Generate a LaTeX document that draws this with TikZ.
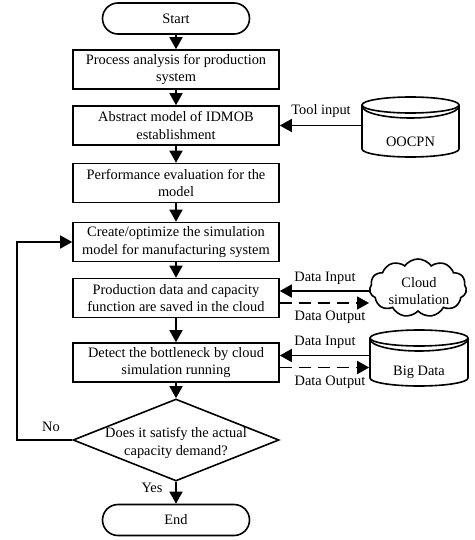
\documentclass[tikz,border=0pt]{standalone}
\usepackage{fontspec}
\setmainfont{Liberation Serif}
\usetikzlibrary{arrows.meta,shapes.geometric,shapes.symbols,shapes.misc}
\newcommand\dbcyl[4]{% left, right, top, bottom
  \pgfmathsetmacro\cylcx{(#1+#2)/2}\pgfmathsetmacro\cylrx{(#2-#1)/2}%
  \draw (\cylcx,#3+8) ellipse [x radius=\cylrx, y radius=8];
  \draw (#1,#3+8) -- (#1,#4-8) arc[start angle=180, end angle=0, x radius=\cylrx, y radius=8] -- (#2,#3+8);
  \draw (#1,#3+9) arc[start angle=180, end angle=0, x radius=\cylrx, y radius=12];
}
\begin{document}
\begin{tikzpicture}[x=1pt,y=-1pt,
  font=\fontsize{14.4}{17.5}\selectfont,
  line width=1.6pt,
  box/.style={draw, rectangle, minimum width=206pt, minimum height=39pt, inner sep=0pt, align=center},
  term/.style={draw, rounded rectangle, minimum width=147pt, minimum height=31pt, inner sep=0pt},
  arr/.style={-{Triangle[length=12pt,width=13pt]}},
  dasharr/.style={arr, dash pattern=on 12pt off 7pt},
  lbl/.style={inner sep=0pt}]
\useasboundingbox (0,0) rectangle (474,540);
% main flow
\node[term] (start) at (176,18.5) {Start};
\node[box] (b1) at (176,69.5) {Process analysis for production\\system};
\node[box] (b2) at (176,125.5) {Abstract model of IDMOB\\establishment};
\node[box] (b3) at (176,183) {Performance evaluation for the\\model};
\node[box] (b4) at (176,242) {Create/optimize the simulation\\model for manufacturing system};
\node[box] (b5) at (176,298) {Production data and capacity\\function are saved in the cloud};
\node[box] (b6) at (176,362.5) {Detect the bottleneck by cloud\\simulation running};
\node[draw, diamond, minimum width=206pt, minimum height=82pt, inner sep=0pt] (dec) at (176,440) {};
\node[align=center] (dectext) at (176,443) {Does it satisfy the actual\\capacity demand?};
\node[term] (end) at (176,520) {End};
\draw[arr] (start) -- (b1);
\draw[arr] (b1) -- (b2);
\draw[arr] (b2) -- (b3);
\draw[arr] (b3) -- (b4);
\draw[arr] (b4) -- (b5);
\draw[arr] (b5) -- (b6);
\draw[arr] (b6) -- (dec);
\draw[arr] (dec) -- (end);
\coordinate (loopc) at (17,440);
\draw[arr] (dec.west) -- (loopc) |- (b4.west);
\node[lbl] (no) at (51,427) {No};
\node[lbl] (yes) at (152,488) {Yes};
% OOCPN
\dbcyl{362}{459}{97}{157}
\node[minimum width=97pt, minimum height=30pt, inner sep=0pt] (oocpn) at (410.5,142) {OOCPN};
\draw[arr] (oocpn.west |- b2.east) -- (b2.east);
\node[lbl] (tool) at (321,111) {Tool input};
% Cloud
\node[cloud, draw, cloud puffs=11, cloud puff arc=110, cloud ignores aspect, minimum width=97pt, minimum height=58pt, inner sep=0pt] (cloud) at (418,288) {};
\node[align=center, font=\fontsize{14.4}{16.5}\selectfont] (cloudtxt) at (419,291) {Cloud\\simulation};
\draw[arr] ([yshift=7pt]b5.east -| cloud.west) -- ([yshift=7pt]b5.east);
\draw[dasharr] ([yshift=-5pt]b5.east) -- ([yshift=-5pt]b5.east -| cloud.west);
\node[lbl] (din1) at (325,278) {Data Input};
\node[lbl] (dout1) at (330,317) {Data Output};
% Big Data
\dbcyl{370}{468}{330}{386}
\node[minimum width=98pt, minimum height=28pt, inner sep=0pt] (bigdata) at (419,372) {Big Data};
\draw[arr] ([yshift=7pt]b6.east -| bigdata.west) -- ([yshift=7pt]b6.east);
\draw[dasharr] ([yshift=-5pt]b6.east) -- ([yshift=-5pt]b6.east -| bigdata.west);
\node[lbl] (din2) at (325,342) {Data Input};
\node[lbl] (dout2) at (330,382) {Data Output};
\end{tikzpicture}
\end{document}
